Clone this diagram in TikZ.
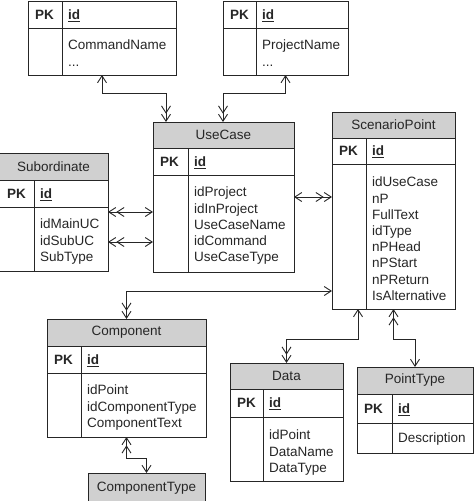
\documentclass[tikz,border=0pt]{standalone}
\usepackage{fontspec}
\setmainfont{Liberation Sans}
\usetikzlibrary{positioning, arrows.meta}
\newcommand\erfont{\fontsize{13.5}{16.2}\selectfont}
\definecolor{erline}{HTML}{262626}
\definecolor{erhead}{HTML}{D0D0D0}
\tikzset{
    ertable/.style={draw=erline, line width=1pt, inner sep=0pt, outer sep=0pt, anchor=north west},
    erhdr/.style={draw=erline, line width=1pt, fill=erhead, inner sep=0pt, outer sep=0pt, minimum height=26pt},
    errow/.style={draw=erline, line width=1pt, inner sep=0pt, outer sep=0pt, minimum height=27pt},
    erkey/.style={font=\erfont\bfseries, inner sep=0pt, text height=9.7pt, text depth=0pt},
    erfields/.style={align=left, inner sep=0pt},
    errule/.style={draw=erline, line width=1pt},
    erlink/.style={draw=erline, line width=0.9pt},
    erone/.tip={Straight Barb[length=7pt, width=9pt]},
    ermany/.tip={Straight Barb[length=7pt, width=9pt, sep=0pt] Straight Barb[length=7pt, width=9pt]}
}

\begin{document}
\begin{tikzpicture}[x=1pt, y=-1pt, every node/.style={font=\erfont, text=erline}]
    \useasboundingbox (0,0) rectangle (474,501);
    \clip (0,0) rectangle (474,501);

    % Command (header is above the page)
    \node[ertable, minimum width=148pt, minimum height=74pt] (command) at (28,1) {};
    \node[errow, minimum width=148pt, below=0pt of command.north] (command-pk) {};
    \draw[errule] ([xshift=34pt]command-pk.north west) -- ([xshift=34pt]command.south west);
    \node[erkey, right=7pt of command-pk.west] (command-pkl) {PK};
    \node[erkey, right=40pt of command-pk.west] (command-id) {\underline{id}};
    \node[erfields, below right=12pt and 40pt of command-pk.south west] (command-f) {CommandName\\...};

    % Project
    \node[ertable, minimum width=125pt, minimum height=74pt] (project) at (223,1) {};
    \node[errow, minimum width=125pt, below=0pt of project.north] (project-pk) {};
    \draw[errule] ([xshift=33pt]project-pk.north west) -- ([xshift=33pt]project.south west);
    \node[erkey, right=7pt of project-pk.west] (project-pkl) {PK};
    \node[erkey, right=39pt of project-pk.west] (project-id) {\underline{id}};
    \node[erfields, below right=12pt and 39pt of project-pk.south west] (project-f) {ProjectName\\...};

    % UseCase
    \node[ertable, minimum width=141pt, minimum height=150pt] (usecase) at (153,122) {};
    \node[erhdr, minimum width=141pt, below=0pt of usecase.north] (usecase-h) {UseCase};
    \node[errow, minimum width=141pt, below=0pt of usecase-h] (usecase-pk) {};
    \draw[errule] ([xshift=35pt]usecase-pk.north west) -- ([xshift=35pt]usecase.south west);
    \node[erkey, right=7pt of usecase-pk.west] (usecase-pkl) {PK};
    \node[erkey, right=41pt of usecase-pk.west] (usecase-id) {\underline{id}};
    \node[erfields, below right=12pt and 41pt of usecase-pk.south west] (usecase-f) {idProject\\idInProject\\UseCaseName\\idCommand\\UseCaseType};

    % Subordinate
    \node[ertable, minimum width=109pt, minimum height=118pt] (subord) at (-1,153) {};
    \node[erhdr, minimum width=109pt, minimum height=27pt, below=0pt of subord.north] (subord-h) {Subordinate};
    \node[errow, minimum width=109pt, below=0pt of subord-h] (subord-pk) {};
    \draw[errule] ([xshift=35pt]subord-pk.north west) -- ([xshift=35pt]subord.south west);
    \node[erkey, right=8pt of subord-pk.west] (subord-pkl) {PK};
    \node[erkey, right=41pt of subord-pk.west] (subord-id) {\underline{id}};
    \node[erfields, below right=12pt and 41pt of subord-pk.south west] (subord-f) {idMainUC\\idSubUC\\SubType};

    % ScenarioPoint
    \node[ertable, minimum width=123pt, minimum height=197pt] (scen) at (332,112) {};
    \node[erhdr, minimum width=123pt, below=0pt of scen.north] (scen-h) {ScenarioPoint};
    \node[errow, minimum width=123pt, minimum height=26pt, below=0pt of scen-h] (scen-pk) {};
    \draw[errule] ([xshift=34pt]scen-pk.north west) -- ([xshift=34pt]scen.south west);
    \node[erkey, right=7pt of scen-pk.west] (scen-pkl) {PK};
    \node[erkey, right=40pt of scen-pk.west] (scen-id) {\underline{id}};
    \node[erfields, below right=13pt and 40pt of scen-pk.south west] (scen-f) {idUseCase\\nP\\FullText\\idType\\nPHead\\nPStart\\nPReturn\\IsAlternative};

    % Component
    \node[ertable, minimum width=159pt, minimum height=118pt] (component) at (47,319) {};
    \node[erhdr, minimum width=159pt, minimum height=27pt, below=0pt of component.north] (component-h) {Component};
    \node[errow, minimum width=159pt, below=0pt of component-h] (component-pk) {};
    \draw[errule] ([xshift=34pt]component-pk.north west) -- ([xshift=34pt]component.south west);
    \node[erkey, right=7pt of component-pk.west] (component-pkl) {PK};
    \node[erkey, right=40pt of component-pk.west] (component-id) {\underline{id}};
    \node[erfields, below right=12pt and 40pt of component-pk.south west] (component-f) {idPoint\\idComponentType\\ComponentText};

    % ComponentType (only the header is on the page)
    \node[erhdr, anchor=north west, minimum width=117pt, minimum height=30pt] (comptype) at (88,473) {ComponentType};

    % Data
    \node[ertable, minimum width=113pt, minimum height=118pt] (data) at (230,363) {};
    \node[erhdr, minimum width=113pt, below=0pt of data.north] (data-h) {Data};
    \node[errow, minimum width=113pt, minimum height=28pt, below=0pt of data-h] (data-pk) {};
    \draw[errule] ([xshift=33pt]data-pk.north west) -- ([xshift=33pt]data.south west);
    \node[erkey, right=7pt of data-pk.west] (data-pkl) {PK};
    \node[erkey, right=39pt of data-pk.west] (data-id) {\underline{id}};
    \node[erfields, below right=13pt and 39pt of data-pk.south west] (data-f) {idPoint\\DataName\\DataType};

    % PointType
    \node[ertable, minimum width=116pt, minimum height=86pt] (pointtype) at (357,367) {};
    \node[erhdr, minimum width=116pt, minimum height=27pt, below=0pt of pointtype.north] (pointtype-h) {PointType};
    \node[errow, minimum width=116pt, minimum height=29pt, below=0pt of pointtype-h] (pointtype-pk) {};
    \draw[errule] ([xshift=35pt]pointtype-pk.north west) -- ([xshift=35pt]pointtype.south west);
    \node[erkey, right=7pt of pointtype-pk.west] (pointtype-pkl) {PK};
    \node[erkey, right=41pt of pointtype-pk.west] (pointtype-id) {\underline{id}};
    \node[erfields, below right=10pt and 41pt of pointtype-pk.south west] (pointtype-f) {Description};

    % Relations
    \draw[erlink, erone-ermany] (command.south) -- ++(0,18) -| ([xshift=13pt]usecase.north west);
    \draw[erlink, erone-ermany] (project.south) -- ++(0,18) -| ([xshift=70pt]usecase.north west);
    \draw[erlink, ermany-erone] (subord.east) -- (subord.east -| usecase.west);
    \draw[erlink, ermany-erone] ([yshift=-30pt]subord.east) -- ([yshift=-30pt]subord.east -| usecase.west);
    \draw[erlink, erone-ermany] (usecase.east) -- (usecase.east -| scen.west);
    \draw[erlink, ermany-erone] (component.north) |- ([yshift=18pt]scen.south west);
    \draw[erlink, ermany-erone] (component.south) -- ++(0,21) -| (comptype.north);
    \draw[erlink, erone-ermany] ([xshift=26pt]scen.south west) -- ++(0,30) -| (data.north);
    \draw[erlink, ermany-erone] (scen.south) -- ++(0,30) -| (pointtype.north);
\end{tikzpicture}
\end{document}
